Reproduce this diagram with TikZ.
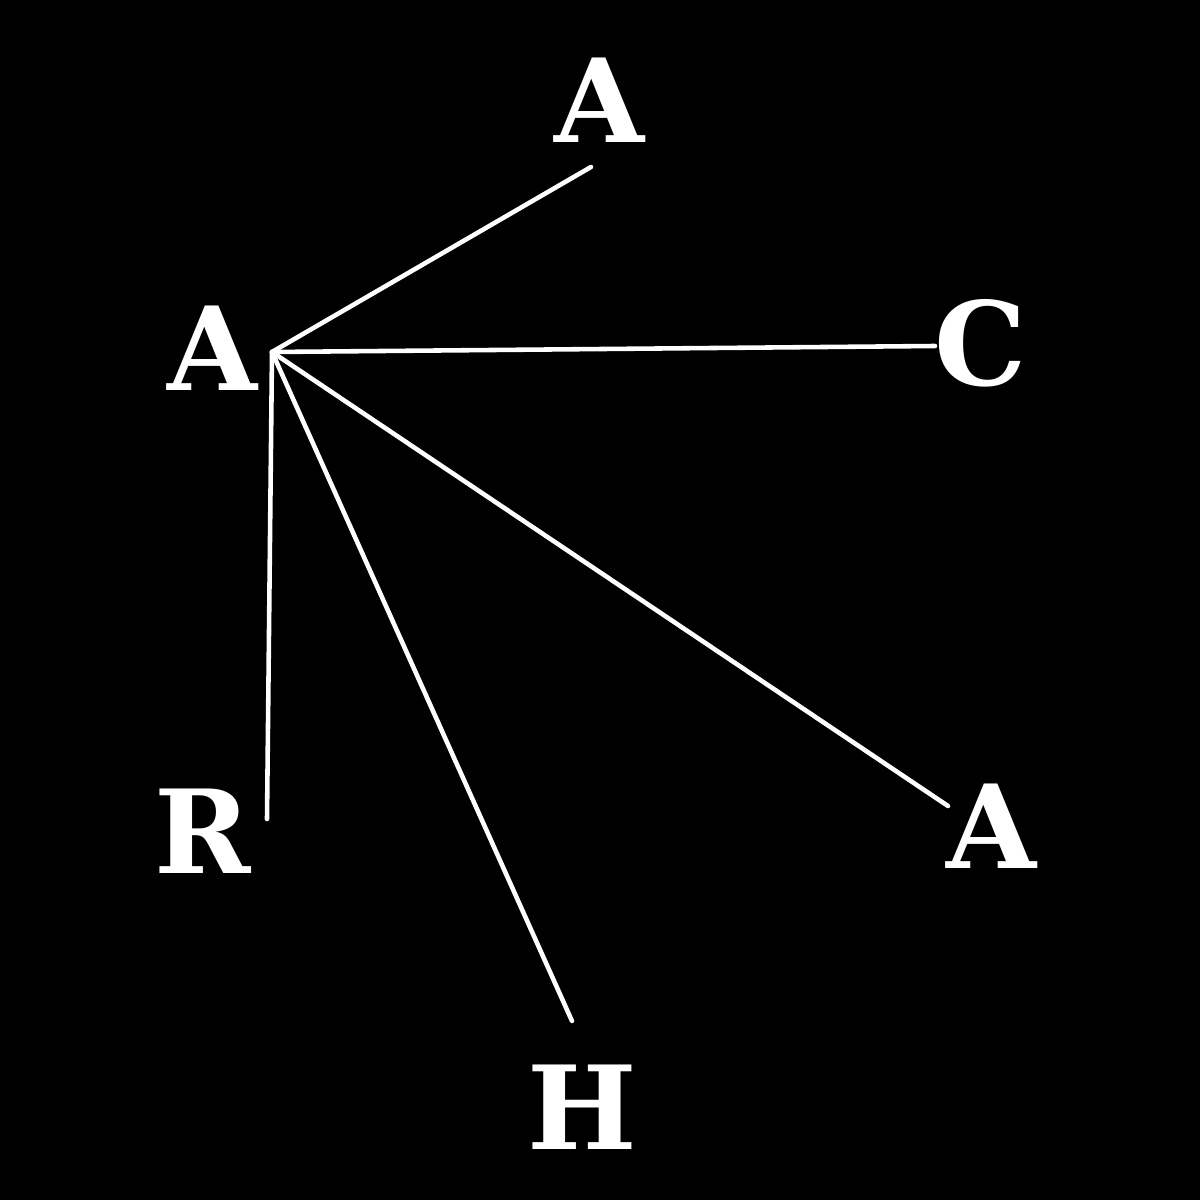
\documentclass[tikz,border=0pt]{standalone}
\usepackage{fontspec}
\usepackage{tikz}
\newfontfamily\letterfont{DejaVu Serif}
\tikzstyle{letter}    = [white,inner sep=0pt,font=\letterfont\bfseries\fontsize{33}{33}\selectfont]
\tikzstyle{spoke}     = [white,line width=1.3pt,line cap=round]

\begin{document}
\begin{tikzpicture}
           \useasboundingbox(0, 0)rectangle(12, 12);
           \fill[black](0, 0)rectangle(12, 12);
           \coordinate(o)at(2.72, 8.48);
           \coordinate(p)at(5.91, 10.33);
           \coordinate(q)at(9.35, 8.54);
           \coordinate(r)at(9.48, 3.94);
           \coordinate(s)at(5.72, 1.79);
           \coordinate(t)at(2.67, 3.81);
           \node[letter](a)at(5.99, 11.00){A};
           \node[letter](b)at(2.12, 8.52){A};
           \node[letter](c)at(9.81, 8.57){C};
           \node[letter](d)at(9.91, 3.74){A};
           \node[letter](h)at(5.82, 0.93){H};
           \node[letter](k)at(2.03, 3.69){R};
           \draw[spoke](o)--(p);
           \draw[spoke](o)--(q);
           \draw[spoke](o)--(r);
           \draw[spoke](o)--(s);
           \draw[spoke](o)--(t);
       \end{tikzpicture}
\end{document}
